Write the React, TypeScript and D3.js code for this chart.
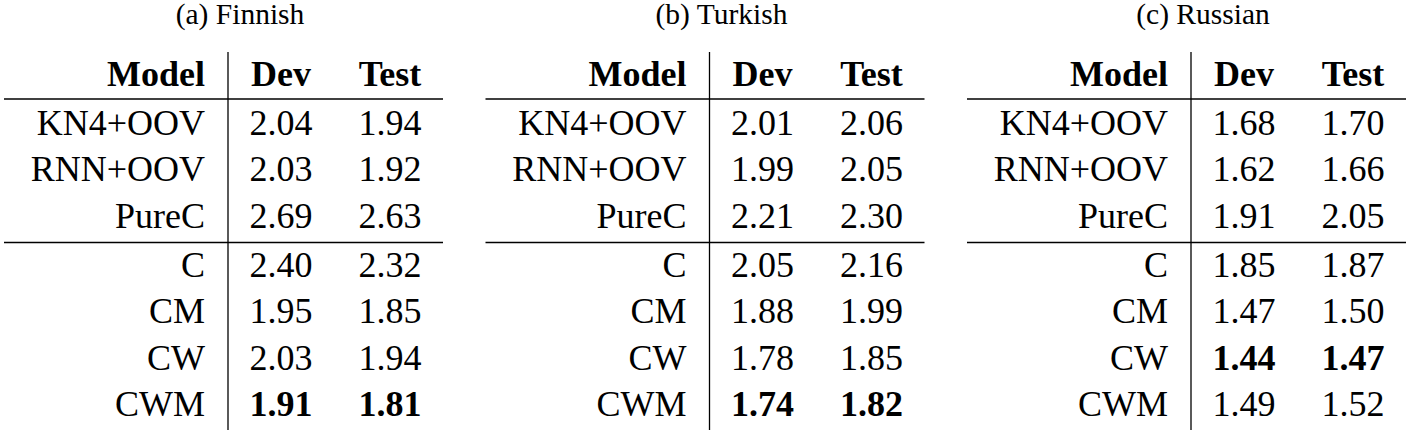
import React from "react";
import * as d3 from "d3";

const panelTitles = ["(a) Finnish", "(b) Turkish", "(c) Russian"];
const columnLabels = ["Model", "Dev", "Test"];
const models = ["KN4+OOV", "RNN+OOV", "PureC", "C", "CM", "CW", "CWM"];

const finnishDev = ["2.04", "2.03", "2.69", "2.40", "1.95", "2.03", "1.91"];
const finnishTest = ["1.94", "1.92", "2.63", "2.32", "1.85", "1.94", "1.81"];
const turkishDev = ["2.01", "1.99", "2.21", "2.05", "1.88", "1.78", "1.74"];
const turkishTest = ["2.06", "2.05", "2.30", "2.16", "1.99", "1.85", "1.82"];
const russianDev = ["1.68", "1.62", "1.91", "1.85", "1.47", "1.44", "1.49"];
const russianTest = ["1.70", "1.66", "2.05", "1.87", "1.50", "1.47", "1.52"];

// index of the best model in each panel (shown in bold)
const bestRow = [6, 6, 5];
// rows above the second rule are baselines, rows below are ours
const groupSplit = 3;

const W = 1409;
const H = 437;
const FONT = "Times New Roman";

const panels = [
  { title: panelTitles[0], dev: finnishDev, test: finnishTest, best: bestRow[0] },
  { title: panelTitles[1], dev: turkishDev, test: turkishTest, best: bestRow[1] },
  { title: panelTitles[2], dev: russianDev, test: russianTest, best: bestRow[2] },
];

// x of each panel's vertical rule
const panelX = d3.scaleLinear().domain([0, 2]).range([228, 1191]);
// offsets of columns relative to the vertical rule
const colX = d3.scaleOrdinal<string, number>().domain(columnLabels).range([-23, 53, 162]);
const colAnchor = d3.scaleOrdinal<string, string>().domain(columnLabels).range(["end", "middle", "middle"]);

// row baselines
const rowY = d3.scaleLinear().domain([0, 1]).range([134.5, 181]);
const yOf = (i: number) => rowY(i) + (i >= groupSplit ? 2.5 : 0);
const headerY = 86;
const rules = [99, 242.5];

export default function App() {
  return (
    <svg width={W} height={H} style={{ position: "absolute", left: 0, top: 0 }}>
      {panels.map((p, pi) => (
        <g key={p.title} transform={`translate(${panelX(pi)},0)`}>
          <text x={12} y={24} textAnchor="middle" fontSize={29.5} style={{ fontFamily: FONT }}>
            {p.title}
          </text>
          <line x1={0} x2={0} y1={52} y2={430} stroke="#000" strokeWidth={1.3} />
          {rules.map((y) => (
            <line key={y} x1={-224} x2={215} y1={y} y2={y} stroke="#000" strokeWidth={1.3} />
          ))}
          {columnLabels.map((c) => (
            <text
              key={c}
              x={colX(c)}
              y={headerY}
              textAnchor={colAnchor(c)}
              fontSize={36}
              fontWeight="bold"
              style={{ fontFamily: FONT }}
            >
              {c}
            </text>
          ))}
          {models.map((m, i) =>
            [m, p.dev[i], p.test[i]].map((cell, ci) => (
              <text
                key={`${i}-${ci}`}
                x={colX(columnLabels[ci])}
                y={yOf(i)}
                textAnchor={colAnchor(columnLabels[ci])}
                fontSize={36}
                fontWeight={ci > 0 && i === p.best ? "bold" : undefined}
                style={{ fontFamily: FONT }}
              >
                {cell}
              </text>
            ))
          )}
        </g>
      ))}
    </svg>
  );
}
